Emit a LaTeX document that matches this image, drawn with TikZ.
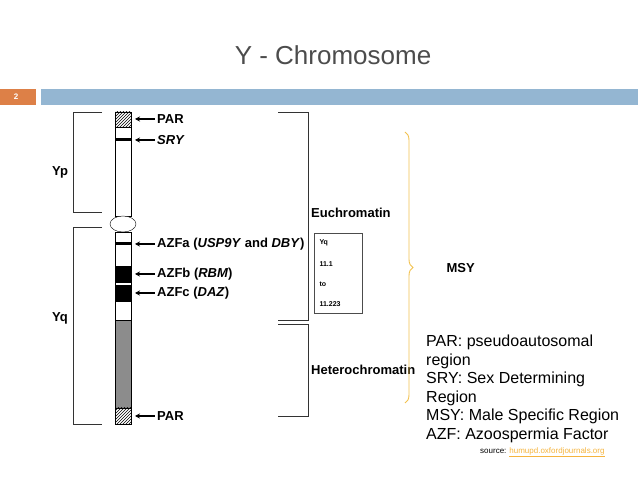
\documentclass[tikz,border=0pt]{standalone}
\usepackage{fontspec}
\setmainfont{Liberation Sans}
\usetikzlibrary{patterns,decorations.pathreplacing,arrows.meta}
\definecolor{barblue}{HTML}{94B6D2}
\definecolor{barorange}{HTML}{DD8047}
\definecolor{braceyellow}{HTML}{F2C14E}
\tikzset{
  x=1pt, y=-1pt,
  lbl/.style={font=\bfseries\fontsize{13}{13}\selectfont, anchor=west, inner sep=0pt},
  ptr/.style={{Stealth[length=5pt,width=5pt]}-, line width=1.1pt},
  brk/.style={line width=0.9pt, black!80},
  legend/.style={font=\fontsize{16}{18.5}\selectfont, anchor=north west, align=left, inner sep=0pt},
  boxtxt/.style={font=\bfseries\fontsize{7}{7}\selectfont, anchor=west},
}
\begin{document}
\begin{tikzpicture}
\useasboundingbox (0,0) rectangle (638,478);
% header
\node[font=\fontsize{26}{26}\selectfont, text=black!70] (title) at (333,55) {Y - Chromosome};
\fill[barorange] (0,89) rectangle (36,105);
\node[font=\bfseries\fontsize{8}{8}\selectfont, text=white] (num) at (16,97) {2};
\fill[barblue] (41,89) rectangle (638,105);
% chromosome
\draw[pattern=north east lines] (115,112) rectangle (131,127);
\draw (115,127) rectangle (131,216);
\fill (115,138.5) rectangle (131,141.5);
\draw (115,232) rectangle (131,320);
\fill (115,242.5) rectangle (131,245.5);
\fill (115,266) rectangle (131,283);
\fill (115,285) rectangle (131,302);
\draw[fill=black!45] (115,320) rectangle (131,408);
\draw[pattern=north east lines] (115,408) rectangle (131,424);
\draw[fill=white] (123,224) ellipse (13 and 8);
% pointers
\coordinate (a1) at (135,119); \coordinate (a2) at (135,140);
\coordinate (a3) at (135,244); \coordinate (a4) at (135,274);
\coordinate (a5) at (135,293); \coordinate (a6) at (135,416);
\node[lbl] (par1) at (157,119) {PAR};
\node[lbl] (sry) at (157,140) {\itshape SRY};
\node[lbl] (azfa) at (157,244) {AZFa (\textit{USP9Y} and \textit{DBY})};
\node[lbl] (azfb) at (157,274) {AZFb (\textit{RBM})};
\node[lbl] (azfc) at (157,293) {AZFc (\textit{DAZ})};
\node[lbl] (par2) at (157,416) {PAR};
\foreach \a/\b in {a1/par1,a2/sry,a3/azfa,a4/azfb,a5/azfc,a6/par2}
  \draw[ptr, shorten >=2pt] (\a) -- (\b.west);
% left brackets
\draw[brk] (102,112) -- (73,112) -- (73,212) -- (102,212);
\draw[brk] (102,227) -- (73,227) -- (73,424) -- (102,424);
\node[lbl, anchor=center] (yp) at (60,172) {Yp};
\node[lbl, anchor=center] (yq) at (60,318) {Yq};
% right brackets
\draw[brk] (278,112) -- (308,112) -- (308,320) -- (278,320);
\draw[brk] (278,324) -- (308,324) -- (308,416) -- (278,416);
\node[lbl] (eu) at (311,213) {Euchromatin};
\node[lbl] (het) at (311,370) {Heterochromatin};
% box
\draw[black!70] (314,233) rectangle (362,313);
\node[boxtxt] (b1) at (316,243) {Yq};
\node[boxtxt] (b2) at (316,264) {11.1};
\node[boxtxt] (b3) at (316,284) {to};
\node[boxtxt] (b4) at (316,304) {11.223};
% yellow brace
\draw[braceyellow, line width=0.9pt, decorate, decoration={brace, amplitude=8pt}]
  (405,132) -- (405,403);
\node[font=\bfseries\fontsize{13}{13}\selectfont, anchor=west] (msy) at (443,268) {MSY};
% legend
\node[legend] (leg) at (426,335) {PAR: pseudoautosomal\\region\\SRY: Sex Determining\\Region\\MSY: Male Specific Region\\AZF: Azoospermia Factor};
\node[font=\fontsize{8}{8}\selectfont, anchor=west, inner sep=0pt] (src) at (480,452) {source: \textcolor{braceyellow!80!orange}{\underline{humupd.oxfordjournals.org}}};
\end{tikzpicture}
\end{document}
